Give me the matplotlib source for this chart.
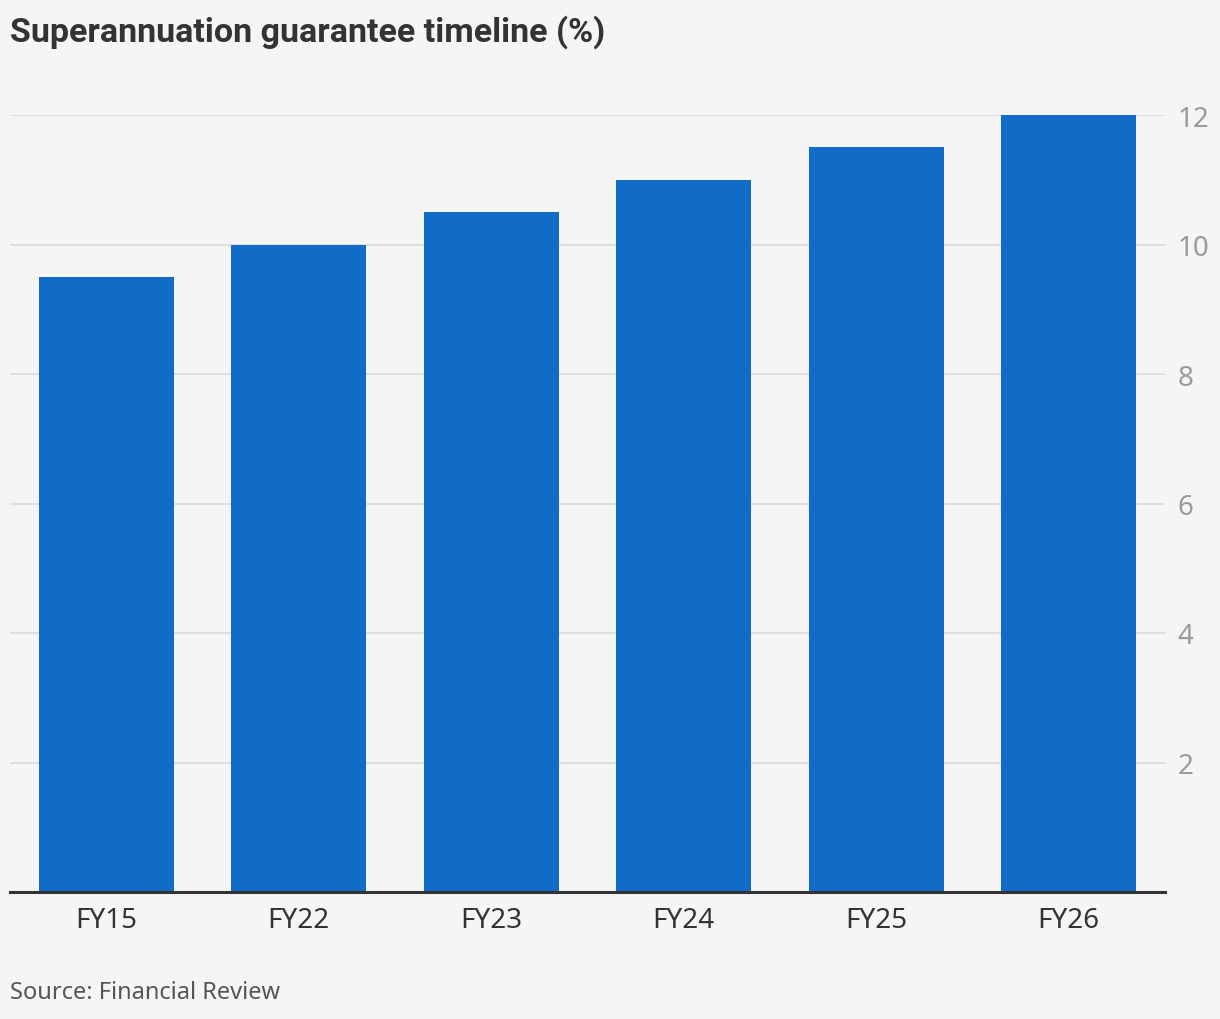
import matplotlib
matplotlib.use("Agg")
import matplotlib.pyplot as plt
from matplotlib import font_manager

categories = ['FY15', 'FY22', 'FY23', 'FY24', 'FY25', 'FY26']
values = [9.5, 10, 10.5, 11, 11.5, 12]
yticks = [2, 4, 6, 8, 10, 12]

bg = '#f5f5f5'
bar_col = '#116cc7'

# pick a narrow bold face for the title if one is around
names = {f.name for f in font_manager.fontManager.ttflist}
title_font = 'Liberation Sans Narrow' if 'Liberation Sans Narrow' in names else 'Roboto'
plt.rcParams['font.family'] = ['Noto Sans', 'DejaVu Sans']

fig = plt.figure(figsize=(12.2, 10.2), dpi=100, facecolor=bg)
ax = fig.add_axes([10/1220, 127/1020, 1155/1220, 777/1020])
ax.set_facecolor(bg)

ax.bar(range(len(categories)), values, width=0.70, color=bar_col, zorder=2)
ax.set_xlim(-0.5, len(categories) - 0.5)
ax.set_ylim(0, 12)

ax.set_yticks(yticks)
ax.yaxis.tick_right()
ax.tick_params(axis='y', length=0, pad=9, labelsize=20, labelcolor='#9a9a9a')
ax.grid(axis='y', color='#dcdcdc', linewidth=1.3, zorder=0)

ax.set_xticks(range(len(categories)))
ax.set_xticklabels(categories)
ax.tick_params(axis='x', length=0, pad=10, labelsize=20, labelcolor='#333333')

for s in ['top', 'right', 'left']:
    ax.spines[s].set_visible(False)
ax.spines['bottom'].set_color('#333333')
ax.spines['bottom'].set_linewidth(2.2)
ax.spines['bottom'].set_zorder(3)

fig.text(10/1220, 1 - 32/1020, 'Superannuation guarantee timeline (%)', family=title_font,
         fontsize=24.5, fontweight='bold', color='#333333', va='center', ha='left')
fig.text(10/1220, 1 - 993/1020, 'Source: Financial Review', fontsize=17,
         color='#555555', va='center', ha='left')

fig.savefig('out.png', dpi=100, facecolor=bg)
